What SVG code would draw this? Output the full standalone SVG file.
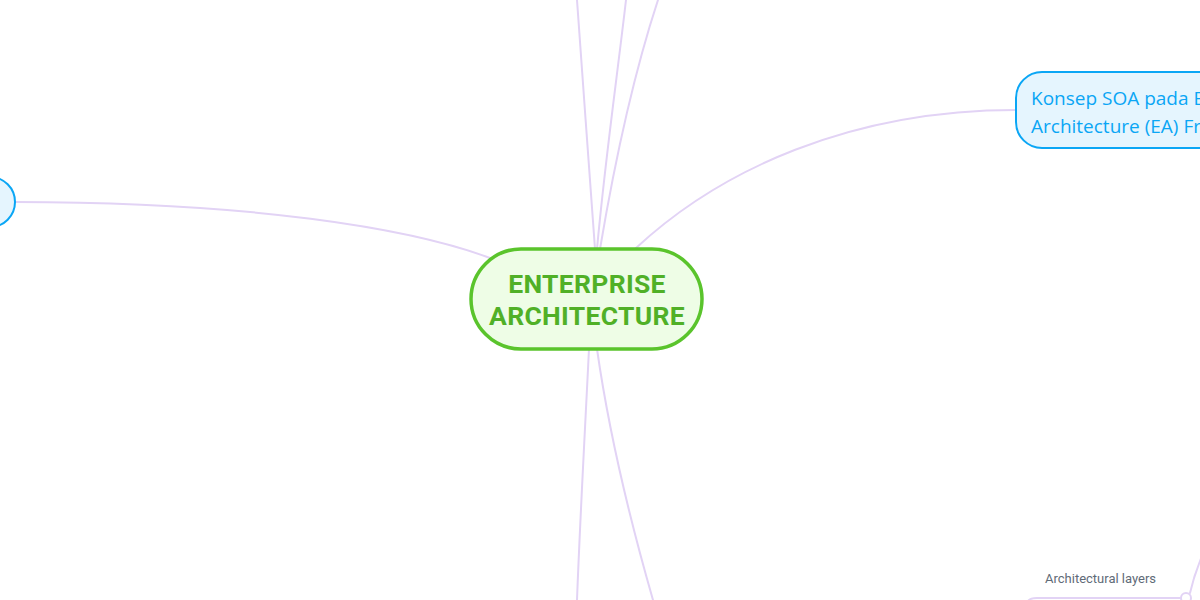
<svg xmlns="http://www.w3.org/2000/svg" width="1200" height="600" viewBox="0 0 1200 600">
<style>
.conn{fill:none;stroke:#e2d3f5;stroke-width:2;stroke-linecap:round}
.center-box{fill:#eefde6;stroke:#5ac42c;stroke-width:3.5}
.center-text{font-family:Roboto,"Noto Sans",sans-serif;font-weight:700;font-size:26.5px;letter-spacing:0.3px;fill:#50b027;text-anchor:middle}
.blue-box{fill:#e5f5fe;stroke:#0aa6f5;stroke-width:2}
.blue-text{font-family:"Open Sans","Noto Sans",sans-serif;font-size:19px;fill:#0aa6f5}
.sub-text{font-family:Roboto,"Noto Sans",sans-serif;font-size:13px;fill:#5f6b78}
</style>
<rect width="1200" height="600" fill="#ffffff"/>
<g id="connectors">
<path class="conn" d="M15,202 C250,202 410,228 490,258"/>
<path class="conn" d="M636,248 C720,170 850,110 1016,110"/>
<path class="conn" d="M595,249 C590,170 582,80 577,0"/>
<path class="conn" d="M597,249 C605,160 618,70 626,0"/>
<path class="conn" d="M600,249 C615,160 635,70 658,0"/>
<path class="conn" d="M589,349 C585,430 580,520 577,600"/>
<path class="conn" d="M597,349 C610,440 630,520 653,600"/>
<path class="conn" d="M1028,601 Q1030,598 1037,598 L1181,598"/>
<path class="conn" d="M1190,593 C1193,580 1197,568 1202,556"/>
</g>
<g id="node-center">
<rect class="center-box" x="471" y="249" width="231" height="100" rx="50"/>
<text class="center-text" x="587" y="293">ENTERPRISE</text>
<text class="center-text" x="587" y="325">ARCHITECTURE</text>
</g>
<g id="node-soa">
<rect class="blue-box" x="1016" y="72" width="260" height="76" rx="26"/>
<text class="blue-text" x="1031" y="105">Konsep SOA pada Enterprise</text>
<text class="blue-text" x="1031" y="133">Architecture (EA) Framework</text>
</g>
<g id="node-left">
<rect class="blue-box" x="-200" y="177" width="215" height="50" rx="25"/>
</g>
<g id="node-architectural-layers">
<text class="sub-text" x="1045" y="583">Architectural layers</text>
<circle cx="1186" cy="598" r="5" fill="#ffffff" stroke="#e2d3f5" stroke-width="2"/>
</g>
</svg>
